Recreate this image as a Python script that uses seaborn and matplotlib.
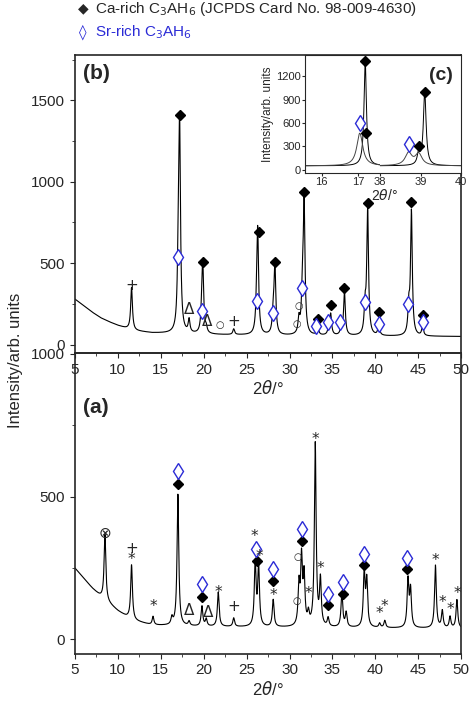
import numpy as np
import pandas as pd
import matplotlib
matplotlib.use("Agg")
import matplotlib.pyplot as plt
import seaborn as sns
from matplotlib.ticker import MultipleLocator

sns.set_style("ticks")
plt.rcParams['font.family'] = ['Liberation Sans', 'DejaVu Sans']

# Peak lists: position (2theta), height above background
peaks_b_pos = [11.6, 17.05, 17.2, 18.3, 19.8, 19.9, 20.3, 23.5, 26.2, 26.3, 28.1, 28.3,
               31.1, 31.5, 31.7, 33.3, 34.6, 34.8, 36.0, 36.4, 38.8, 39.1, 40.4, 43.9, 44.2, 45.5]
peaks_b_h = [260, 380, 1200, 80, 130, 380, 30, 35, 180, 560, 120, 420,
             90, 230, 800, 50, 60, 120, 40, 270, 160, 780, 70, 160, 760, 60]
peaks_a_pos = [8.5, 11.6, 14.1, 16.3, 17.0, 18.3, 19.8, 20.3, 21.7, 23.5, 26.0, 26.4, 28.1,
               31.1, 31.4, 31.7, 32.2, 33.0, 33.6, 34.5, 36.1, 36.6, 38.7, 39.0, 40.5, 41.1,
               43.8, 44.1, 47.0, 47.8, 48.7, 49.5]
peaks_a_h = [230, 190, 30, 25, 460, 15, 70, 25, 120, 30, 220, 210, 95,
             140, 230, 170, 40, 640, 160, 30, 120, 50, 190, 160, 15, 25,
             165, 130, 220, 60, 40, 100]

# background level points (2theta, counts)
bg_b_x = [5, 6, 7, 8, 9, 10, 11, 12, 14, 20, 30, 40, 50]
bg_b_y = [280, 240, 200, 165, 140, 118, 100, 85, 72, 62, 55, 52, 50]
bg_a_x = [5, 6, 7, 8, 9, 10, 11, 12, 14, 20, 30, 40, 50]
bg_a_y = [250, 215, 180, 150, 125, 100, 80, 65, 50, 45, 42, 40, 38]

# inset (c) peaks: Ca-rich sharp curve and Sr-rich broad curve
inset_ca_pos = [17.2, 38.95, 39.1]
inset_ca_h = [1350, 150, 950]
inset_sr_pos = [17.05, 38.7, 38.95]
inset_sr_h = [420, 160, 150]

# phase markers: (x, y, kind)
marks_b = [(17.2, 1410, 'ca'), (17.05, 540, 'sr'), (19.9, 510, 'ca'), (19.8, 205, 'sr'),
           (26.4, 690, 'ca'), (26.2, 270, 'sr'), (28.3, 510, 'ca'), (28.1, 195, 'sr'),
           (31.7, 935, 'ca'), (31.5, 350, 'sr'), (33.3, 160, 'ca'), (33.1, 115, 'sr'),
           (34.8, 245, 'ca'), (34.5, 140, 'sr'), (36.4, 350, 'ca'), (35.9, 140, 'sr'),
           (39.1, 870, 'ca'), (38.8, 260, 'sr'), (40.4, 200, 'ca'), (40.4, 125, 'sr'),
           (44.2, 875, 'ca'), (43.8, 250, 'sr'), (45.5, 180, 'ca'), (45.6, 140, 'sr')]
syms_b = [(11.6, 365, '+'), (18.3, 215, 'Δ'), (20.4, 145, 'Δ'), (23.5, 145, '+'),
          (21.9, 118, '○'), (30.8, 128, '○'), (31.1, 235, '○')]
marks_a = [(17.0, 545, 'ca'), (17.0, 590, 'sr'), (19.8, 150, 'ca'), (19.8, 195, 'sr'),
           (26.2, 275, 'ca'), (26.1, 315, 'sr'), (28.1, 205, 'ca'), (28.1, 245, 'sr'),
           (31.4, 345, 'ca'), (31.4, 385, 'sr'), (34.5, 120, 'ca'), (34.5, 160, 'sr'),
           (36.2, 160, 'ca'), (36.2, 200, 'sr'), (38.7, 260, 'ca'), (38.7, 300, 'sr'),
           (43.7, 245, 'ca'), (43.7, 285, 'sr')]
syms_a = [(8.5, 370, '⊗'), (11.6, 320, '+'), (11.6, 280, '*'), (14.1, 115, '*'),
          (18.3, 100, 'Δ'), (20.5, 95, 'Δ'), (21.7, 165, '*'), (23.5, 115, '+'),
          (25.9, 360, '*'), (26.5, 290, '*'), (28.1, 155, '*'), (31.0, 290, '○'),
          (30.8, 135, '○'), (32.2, 160, '*'), (33.0, 700, '*'), (33.6, 250, '*'),
          (40.5, 90, '*'), (41.1, 115, '*'), (47.0, 275, '*'), (47.8, 130, '*'),
          (48.7, 105, '*'), (49.6, 160, '*')]

blue = '#2b2bd6'


def pattern(x, pos, h, bx, by, w=0.12):
    y = np.interp(x, bx, by)
    for p, hh in zip(pos, h):
        y = y + hh / (1 + ((x - p) / w) ** 2)
    return y


def draw_marks(ax, marks, syms):
    for x, y, k in marks:
        if k == 'ca':
            ax.plot(x, y, marker='D', ms=5, color='black', ls='none')
        else:
            ax.plot(x, y, marker='d', ms=8, mfc='white', mec=blue, mew=1, ls='none')
    for x, y, s in syms:
        ax.text(x, y, s, ha='center', va='center', fontsize=11 if s != '○' else 7,
                family=['DejaVu Sans'])


fig = plt.figure(figsize=(4.74, 7.2), dpi=100)
ax_a = fig.add_axes([0.158, 0.092, 0.815, 0.418])
ax_b = fig.add_axes([0.158, 0.510, 0.815, 0.414])
ax_b.set_zorder(3)
ax_b.patch.set_alpha(0)

tt = np.linspace(5, 50, 4000)
df_b = pd.DataFrame({'x': tt, 'y': pattern(tt, peaks_b_pos, peaks_b_h, bg_b_x, bg_b_y)})
df_a = pd.DataFrame({'x': tt, 'y': pattern(tt, peaks_a_pos, peaks_a_h, bg_a_x, bg_a_y)})
sns.lineplot(data=df_b, x='x', y='y', ax=ax_b, color='black', lw=0.8)
sns.lineplot(data=df_a, x='x', y='y', ax=ax_a, color='black', lw=0.8)
draw_marks(ax_b, marks_b, syms_b)
draw_marks(ax_a, marks_a, syms_a)

for ax, ylim, yt in [(ax_b, (-50, 1780), [0, 500, 1000, 1500]), (ax_a, (-50, 1003), [0, 500, 1000])]:
    ax.set_xlim(5, 50)
    ax.set_ylim(*ylim)
    ax.set_yticks(yt)
    ax.xaxis.set_major_locator(MultipleLocator(5))
    ax.xaxis.set_minor_locator(MultipleLocator(2.5))
    ax.yaxis.set_minor_locator(MultipleLocator(250))
    ax.tick_params(which='both', direction='out', labelsize=11)
    ax.set_xlabel('2$\\theta$/°', fontsize=12, labelpad=2)
    ax.set_ylabel('')
    for s in ax.spines.values():
        s.set_visible(True)
        s.set_linewidth(1.2)

ax_b.text(0.02, 0.97, '(b)', transform=ax_b.transAxes, fontsize=15, fontweight='bold', va='top')
ax_a.text(0.02, 0.85, '(a)', transform=ax_a.transAxes, fontsize=15, fontweight='bold', va='top')
fig.text(0.032, 0.5, 'Intensity/arb. units', rotation=90, fontsize=12, va='center', ha='center')

# inset (c), broken x axis
ins1 = fig.add_axes([0.643, 0.760, 0.158, 0.164])
ins2 = fig.add_axes([0.802, 0.760, 0.171, 0.164])
ins1.set_zorder(4)
ins2.set_zorder(4)
x1 = np.linspace(15.5, 17.6, 600)
x2 = np.linspace(38, 40, 600)
for ins, xx in [(ins1, x1), (ins2, x2)]:
    ca = pattern(xx, inset_ca_pos, inset_ca_h, [15, 41], [50, 50], w=0.04)
    sr = pattern(xx, inset_sr_pos, inset_sr_h, [15, 41], [50, 50], w=0.1)
    sns.lineplot(x=xx, y=ca, ax=ins, color='black', lw=0.7)
    sns.lineplot(x=xx, y=sr, ax=ins, color='#444444', lw=0.7)
    ins.set_ylim(-40, 1480)
    ins.tick_params(labelsize=8, direction='out', length=2, pad=1)
ins1.set_xlim(15.53, 17.6)
ins2.set_xlim(38, 40)
ins1.set_xticks([16, 17])
ins2.set_xticks([38, 39, 40])
ins1.set_yticks([0, 300, 600, 900, 1200])
ins2.set_yticks([])
ins1.spines['right'].set_visible(False)
ins2.spines['left'].set_visible(False)
ins1.set_ylabel('Intensity/arb. units', fontsize=8.5, labelpad=1)
fig.text(0.81, 0.722, '2$\\theta$/°', fontsize=10, ha='center')
ins2.text(0.9, 0.9, '(c)', transform=ins2.transAxes, fontsize=14, fontweight='bold', ha='right', va='top')
ins1.plot(17.2, 1400, marker='D', ms=5, color='black')
ins1.plot(17.22, 470, marker='D', ms=5, color='black')
ins1.plot(17.05, 600, marker='d', ms=8, mfc='white', mec=blue)
ins2.plot(38.7, 330, marker='d', ms=8, mfc='white', mec=blue)
ins2.plot(38.95, 300, marker='D', ms=5, color='black')
ins2.plot(39.1, 1000, marker='D', ms=5, color='black')

# legend at top
fig.text(0.175, 0.988, '◆', fontsize=10, va='center', ha='center', family=['DejaVu Sans'])
fig.text(0.2, 0.988, 'Ca-rich C$_3$AH$_6$ (JCPDS Card No. 98-009-4630)', fontsize=11, va='center')
fig.text(0.175, 0.955, '◊', fontsize=11, va='center', ha='center', color=blue, family=['DejaVu Sans'])
fig.text(0.2, 0.955, 'Sr-rich C$_3$AH$_6$', fontsize=11, va='center', color=blue)

fig.savefig('out.png', dpi=100)
